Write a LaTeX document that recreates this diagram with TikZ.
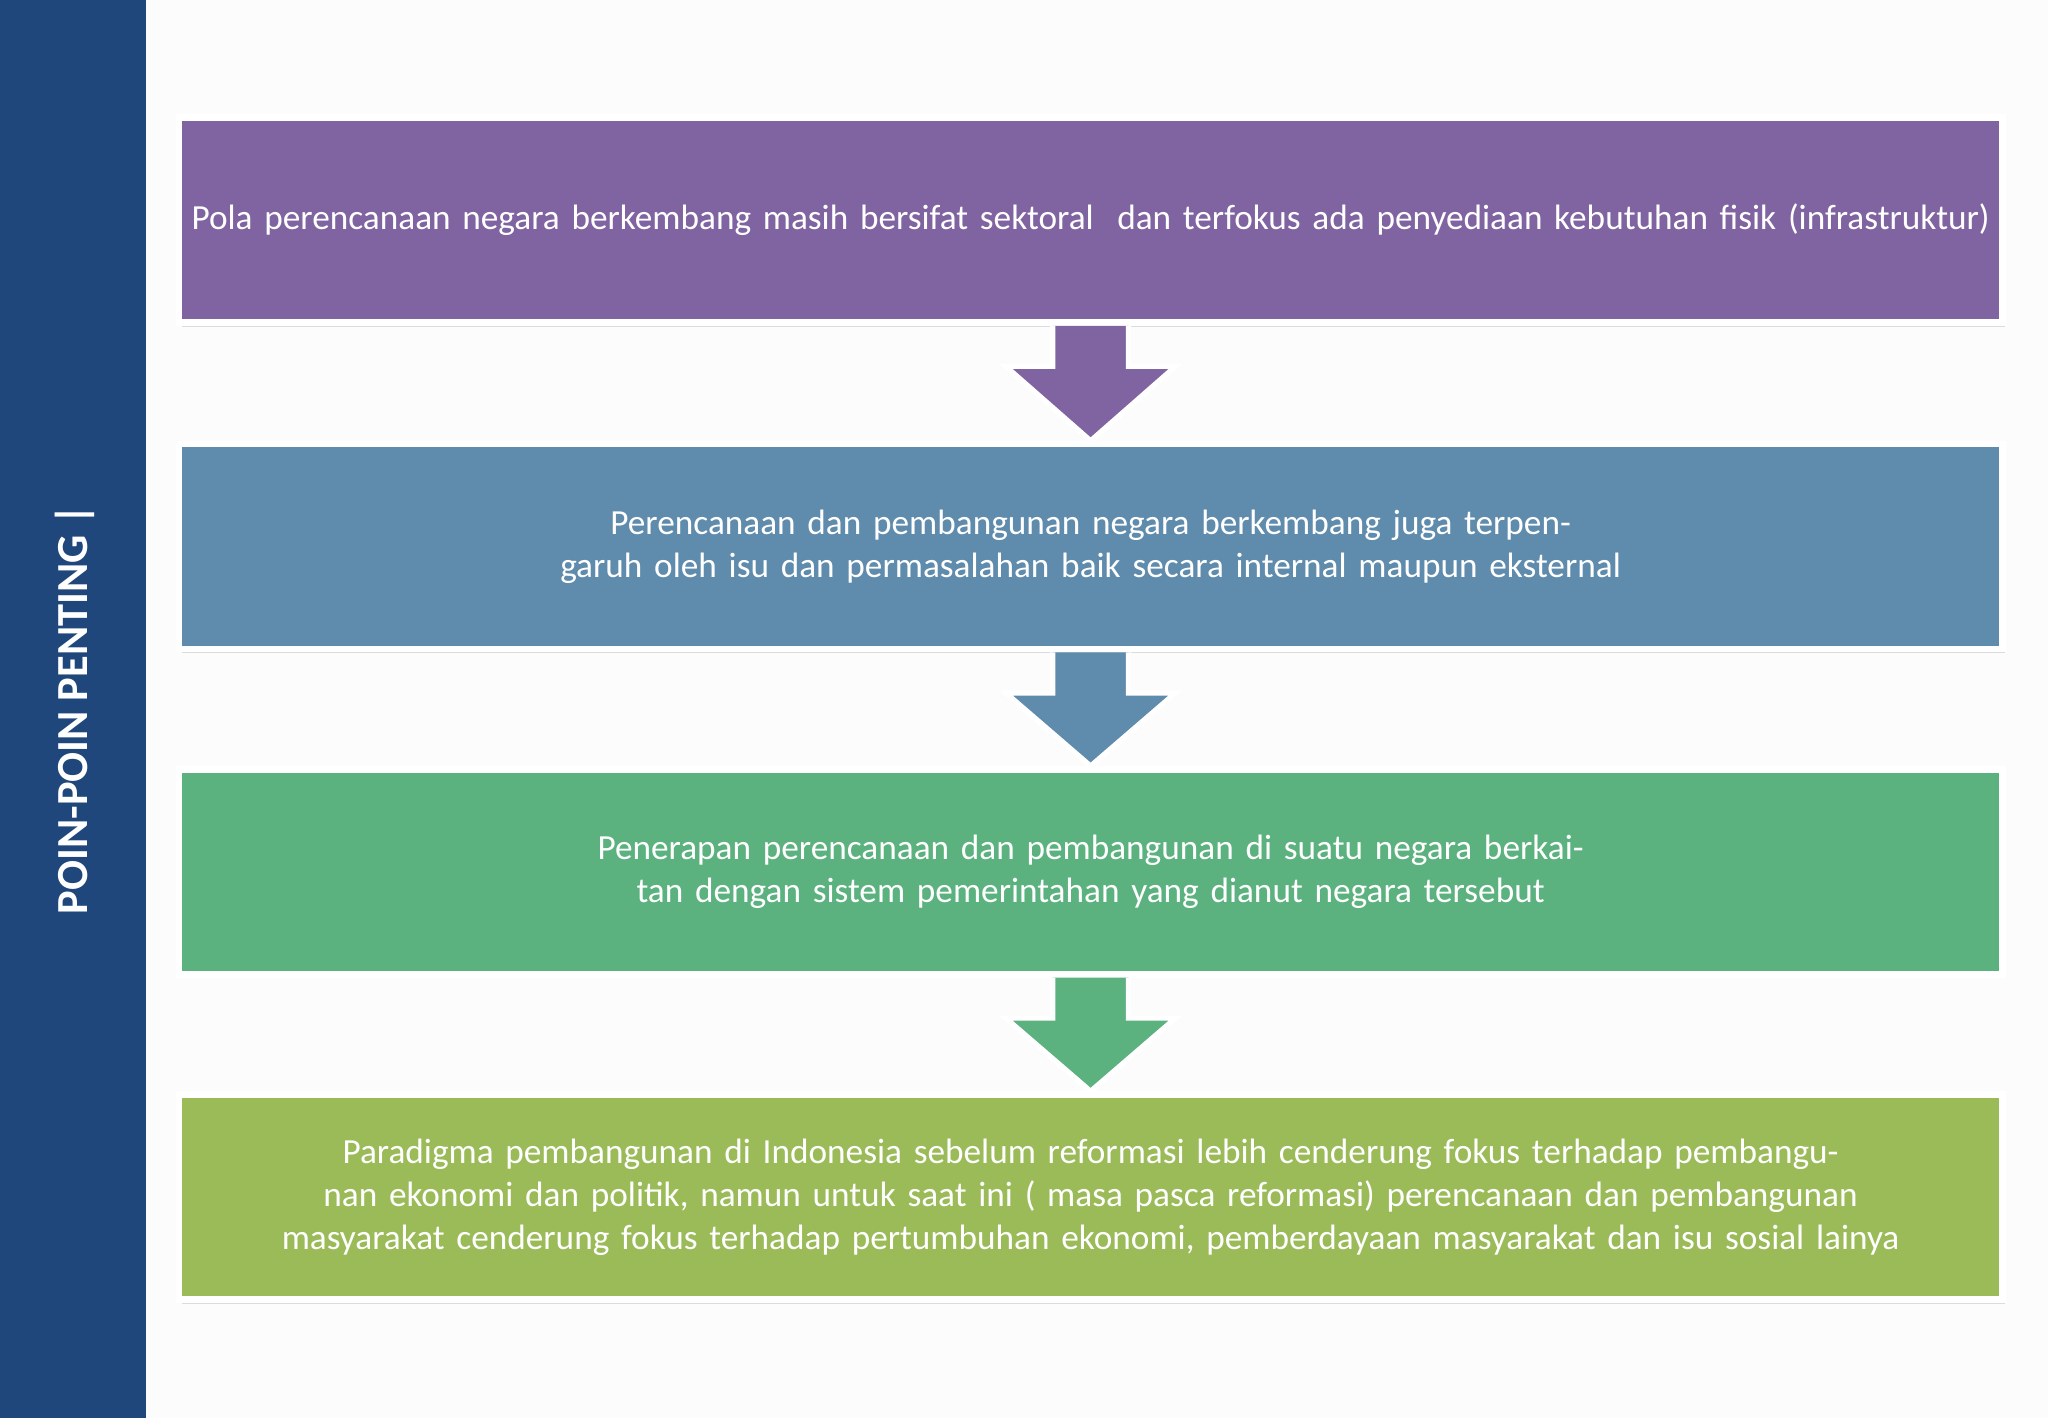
\documentclass[tikz,border=0pt]{standalone}
\usepackage{fontspec}
\setmainfont{Carlito}
\usetikzlibrary{shadows}
\definecolor{bar}{HTML}{1F477B}
\definecolor{c1}{HTML}{8064A2}
\definecolor{c2}{HTML}{5F8BAD}
\definecolor{c3}{HTML}{5BB27F}
\definecolor{c4}{HTML}{9BBB59}
\begin{document}
\begin{tikzpicture}[x=0.5pt,y=-0.5pt,
  box/.style={draw=white,line width=2.5pt,minimum width=1396*0.5pt,minimum height=157*0.5pt,
    text=white,align=center,font=\fontsize{13.5pt}{16.5pt}\selectfont,text width=1380*0.5pt,inner sep=0pt,
    drop shadow={opacity=0.25,shadow xshift=1pt,shadow yshift=-1.5pt}},
  arr/.style={draw=white,line width=2pt,line join=miter}]
\useasboundingbox (0,0) rectangle (1568,1086);
\fill[white!99!black] (0,0) rectangle (1568,1086);
\fill[bar] (0,0) rectangle (112,1086);
\node[rotate=90,text=white,font=\fontsize{17pt}{20pt}\selectfont\bfseries] (title) at (57,543) {POIN-POIN PENTING |};
\foreach \y/\c/\n in {90/c1/1,340/c2/2,589/c3/3,838/c4/4}{
  \coordinate (b\n) at (835,\y+78.5);
}
\node[box,fill=c1] (n1) at (b1) {Pola perencanaan negara berkembang masih bersifat sektoral\ \ dan terfokus ada penyediaan kebutuhan fisik (infrastruktur)};
\node[box,fill=c2] (n2) at (b2) {Perencanaan dan pembangunan negara berkembang juga terpengaruh oleh isu dan permasalahan baik secara internal maupun eksternal};
\node[box,fill=c3] (n3) at (b3) {Penerapan perencanaan dan pembangunan di suatu negara berkaitan dengan sistem pemerintahan yang dianut negara tersebut};
\node[box,fill=c4] (n4) at (b4) {Paradigma pembangunan di Indonesia sebelum reformasi lebih cenderung fokus terhadap pembangunan ekonomi dan politik, namun untuk saat ini ( masa pasca reformasi) perencanaan dan pembangunan masyarakat cenderung fokus terhadap pertumbuhan ekonomi, pemberdayaan masyarakat dan isu sosial lainya};
\foreach \a/\b/\c in {n1/n2/c1,n2/n3/c2,n3/n4/c3}{
  \path (\a.south) coordinate (s) (\b.north) coordinate (t);
  \fill[\c,arr] ([xshift=-29*0.5pt]s) -- ([xshift=-29*0.5pt,yshift=-31*0.5pt]s) -- ([xshift=-65*0.5pt,yshift=-31*0.5pt]s)
    -- (t) -- ([xshift=65*0.5pt,yshift=-31*0.5pt]s) -- ([xshift=29*0.5pt,yshift=-31*0.5pt]s) -- ([xshift=29*0.5pt]s);
}
\end{tikzpicture}
\end{document}
